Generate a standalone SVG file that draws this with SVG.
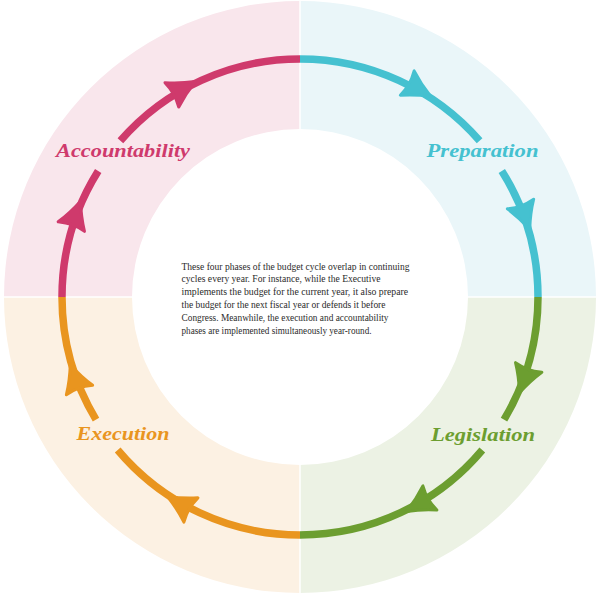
<svg xmlns="http://www.w3.org/2000/svg" xmlns:xlink="http://www.w3.org/1999/xlink" width="600" height="597" viewBox="0 0 600 597">
<style>
.lbl{font-family:"Liberation Serif","DejaVu Serif",serif;font-weight:bold;font-style:italic;font-size:18.5px;text-anchor:middle}
.body{font-family:"Liberation Serif","DejaVu Serif",serif;font-size:10.4px;fill:#2b2b2b}
.arc{fill:none;stroke-width:7.5;stroke-linecap:butt}
.sep{stroke:#fff;stroke-width:1.5}
</style>
<defs>
<path id="ah" d="M 15 0 Q 0 -6 -12 -14 Q -10 -6 -10 0 Q -10 6 -12 14 Q 0 6 15 0 Z" stroke-width="3" stroke-linejoin="round"/>
</defs>
<rect width="600" height="597" fill="#fff"/>
<g id="ring">
<path d="M 300 1 A 296 296 0 0 1 596 297 L 468 297 A 168 168 0 0 0 300 129 Z" fill="#eaf6f9"/>
<path d="M 596 297 A 296 296 0 0 1 300 593 L 300 465 A 168 168 0 0 0 468 297 Z" fill="#ecf2e4"/>
<path d="M 300 593 A 296 296 0 0 1 4 297 L 132 297 A 168 168 0 0 0 300 465 Z" fill="#fcf1e3"/>
<path d="M 4 297 A 296 296 0 0 1 300 1 L 300 129 A 168 168 0 0 0 132 297 Z" fill="#f9e6ec"/>
<line class="sep" x1="300" y1="0" x2="300" y2="130"/>
<line class="sep" x1="300" y1="464" x2="300" y2="597"/>
<line class="sep" x1="0" y1="297" x2="133" y2="297"/>
<line class="sep" x1="467" y1="297" x2="600" y2="297"/>
</g>
<g id="connectors">
<g stroke="#45c1d0">
<path class="arc" d="M 300 59 A 238 238 0 0 1 479.6 140.8"/>
<path class="arc" d="M 501.8 170.9 A 238 238 0 0 1 538 297"/>
</g>
<g fill="#45c1d0" stroke="#45c1d0">
<use xlink:href="#ah" href="#ah" transform="rotate(29.5 300 297) translate(300 58)"/>
<use xlink:href="#ah" href="#ah" transform="rotate(70 300 297) translate(300 58)"/>
</g>
<g stroke="#6c9e30">
<path class="arc" d="M 538 297 A 238 238 0 0 1 504 419.6"/>
<path class="arc" d="M 482.3 450 A 238 238 0 0 1 300 535"/>
</g>
<g fill="#6c9e30" stroke="#6c9e30">
<use xlink:href="#ah" href="#ah" transform="rotate(110 300 297) translate(300 58)"/>
<use xlink:href="#ah" href="#ah" transform="rotate(150 300 297) translate(300 58)"/>
</g>
<g stroke="#e9951f">
<path class="arc" d="M 300 535 A 238 238 0 0 1 117.7 450"/>
<path class="arc" d="M 96 419.6 A 238 238 0 0 1 62 297"/>
</g>
<g fill="#e9951f" stroke="#e9951f">
<use xlink:href="#ah" href="#ah" transform="rotate(210 300 297) translate(300 58)"/>
<use xlink:href="#ah" href="#ah" transform="rotate(250 300 297) translate(300 58)"/>
</g>
<g stroke="#cf3a6c">
<path class="arc" d="M 62 297 A 238 238 0 0 1 98.2 170.9"/>
<path class="arc" d="M 120.4 140.8 A 238 238 0 0 1 300 59"/>
</g>
<g fill="#cf3a6c" stroke="#cf3a6c">
<use xlink:href="#ah" href="#ah" transform="rotate(290 300 297) translate(300 58)"/>
<use xlink:href="#ah" href="#ah" transform="rotate(330.5 300 297) translate(300 58)"/>
</g>
</g>
<g id="preparation"><text class="lbl" x="482.5" y="157.3" fill="#45c1d0" textLength="112" lengthAdjust="spacingAndGlyphs">Preparation</text></g>
<g id="legislation"><text class="lbl" x="483" y="440.5" fill="#6c9e30" textLength="104" lengthAdjust="spacingAndGlyphs">Legislation</text></g>
<g id="execution"><text class="lbl" x="123" y="440" fill="#e9951f" textLength="93" lengthAdjust="spacingAndGlyphs">Execution</text></g>
<g id="accountability"><text class="lbl" x="123" y="157" fill="#cf3a6c" textLength="134" lengthAdjust="spacingAndGlyphs">Accountability</text></g>
<g id="description">
<text class="body" x="181.5" y="269.5" textLength="228" lengthAdjust="spacingAndGlyphs">These four phases of the budget cycle overlap in continuing</text>
<text class="body" x="181.5" y="282.3" textLength="199" lengthAdjust="spacingAndGlyphs">cycles every year. For instance, while the Executive</text>
<text class="body" x="181.5" y="295.1" textLength="226.6" lengthAdjust="spacingAndGlyphs">implements the budget for the current year, it also prepare</text>
<text class="body" x="181.5" y="307.9" textLength="204" lengthAdjust="spacingAndGlyphs">the budget for the next fiscal year or defends it before</text>
<text class="body" x="181.5" y="320.7" textLength="207" lengthAdjust="spacingAndGlyphs">Congress. Meanwhile, the execution and accountability</text>
<text class="body" x="181.5" y="333.5" textLength="190" lengthAdjust="spacingAndGlyphs">phases are implemented simultaneously year-round.</text>
</g>
</svg>
